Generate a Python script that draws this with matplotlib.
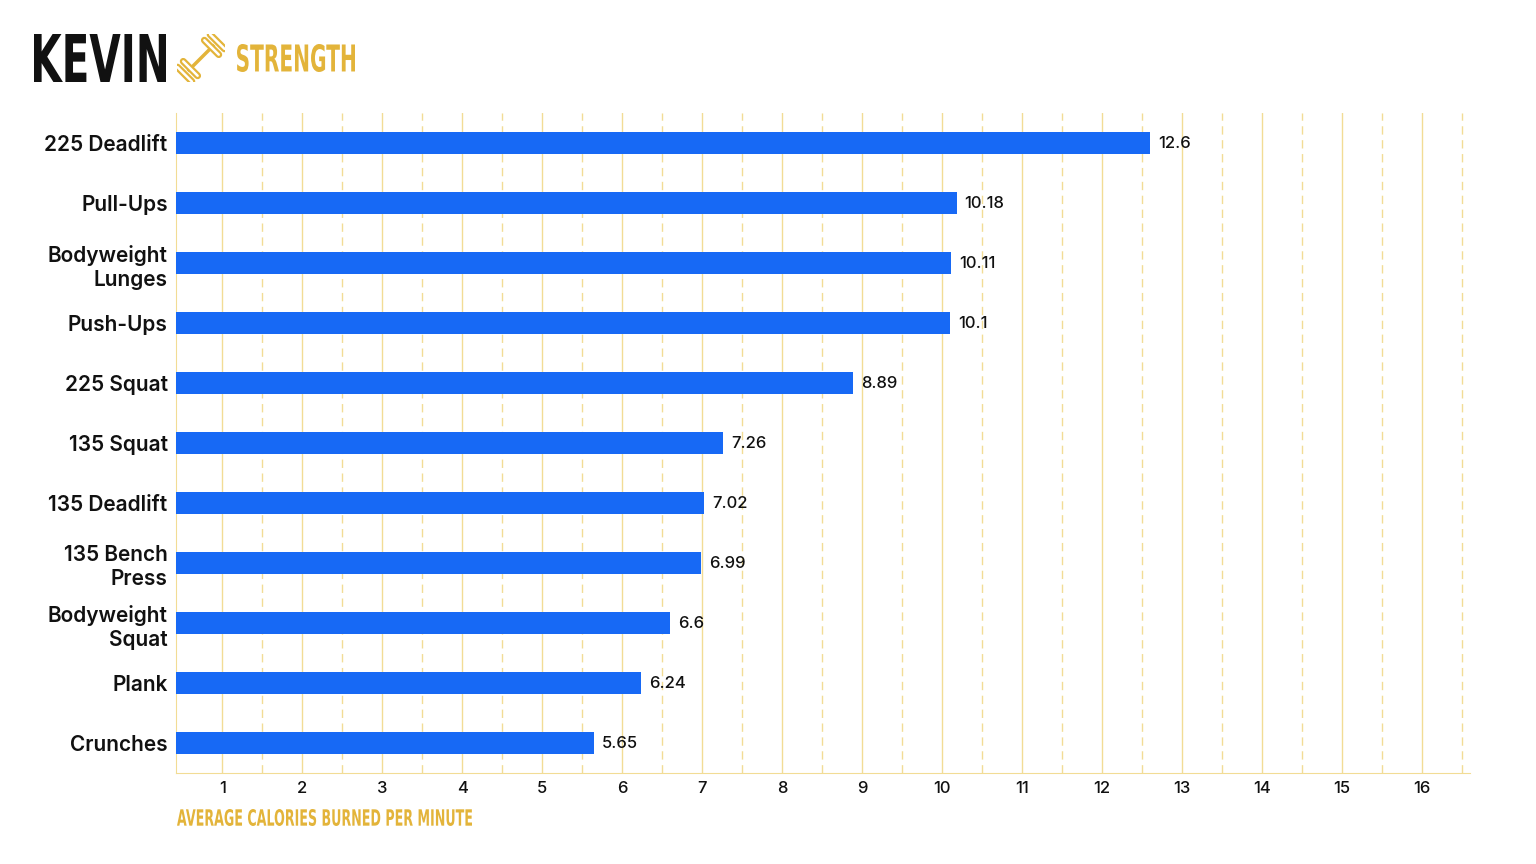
import matplotlib
matplotlib.use("Agg")
import matplotlib.pyplot as plt
from matplotlib import font_manager as fm
from matplotlib.textpath import TextPath
from matplotlib.font_manager import FontProperties
from matplotlib.patches import PathPatch
from matplotlib.transforms import Affine2D, IdentityTransform

categories = ["225 Deadlift", "Pull-Ups", "Bodyweight\nLunges", "Push-Ups", "225 Squat",
              "135 Squat", "135 Deadlift", "135 Bench\nPress", "Bodyweight\nSquat", "Plank", "Crunches"]
values = [12.6, 10.18, 10.11, 10.1, 8.89, 7.26, 7.02, 6.99, 6.6, 6.24, 5.65]
labels = ["12.6", "10.18", "10.11", "10.1", "8.89", "7.26", "7.02", "6.99", "6.6", "6.24", "5.65"]
xticks = list(range(1, 17))

names = {f.name for f in fm.fontManager.ttflist}
body = "Inter" if "Inter" in names else "DejaVu Sans"

gold = "#E3B43A"
grid = "#F2DC95"
blue = "#1769F5"
H = 864

fig = plt.figure(figsize=(15.36, 8.64), dpi=100)
ax = fig.add_axes([176/1536, 1-773/864, (1470-176)/1536, (773-113)/864])
y = list(range(len(values)))
ax.barh(y, values, height=0.37, color=blue, zorder=3)
ax.set_ylim(len(values)-0.5, -0.5)
ax.set_xlim(0.42, 16.6)
for v in xticks:
    ax.axvline(v, color=grid, lw=1, zorder=1)
    ax.axvline(v+0.5, color=grid, lw=1, ls=(0, (6, 4)), zorder=1)
for yi, v, l in zip(y, values, labels):
    ax.text(v+0.1, yi, l, va="center", ha="left", fontsize=12, family=body, weight=500, color="#111")
ax.set_yticks(y)
ax.set_yticklabels(categories, fontsize=15, family=body, weight=600, color="#111", linespacing=1.25)
ax.set_xticks(xticks)
ax.set_xticklabels([str(t) for t in xticks], fontsize=12, family=body, weight=500, color="#111")
ax.tick_params(length=0, pad=6)
for s in ["top", "right"]:
    ax.spines[s].set_visible(False)
ax.spines["bottom"].set_color(grid)
ax.spines["left"].set_color(grid)

def fit_text(s, x0, x1, ytop, ybot, color):
    tp = TextPath((0, 0), s, size=100, prop=FontProperties(family="DejaVu Sans", weight="bold"))
    ext = tp.get_extents()
    sx = (x1 - x0) / ext.width
    sy = (ybot - ytop) / ext.height
    tr = Affine2D().translate(-ext.x0, -ext.y0).scale(sx, sy).translate(x0, H - ybot)
    fig.patches.append(PathPatch(tr.transform_path(tp), color=color, lw=0,
                                 transform=IdentityTransform(), figure=fig))

fit_text("KEVIN", 34, 166, 34, 82, "#111")
fit_text("STRENGTH", 237, 355, 44, 72, gold)
fit_text("AVERAGE CALORIES BURNED PER MINUTE", 177, 472, 809, 826, gold)

# simple dumbbell icon
ia = fig.add_axes([177/1536, 1-82/864, 48/1536, 48/864])
ia.set_xlim(0, 10); ia.set_ylim(0, 10); ia.axis("off")
ia.plot([2.5, 7.5], [2.5, 7.5], color=gold, lw=2.5)
for cx, cy in [(1.6, 1.6), (2.8, 2.8), (7.2, 7.2), (8.4, 8.4)]:
    ia.plot([cx-1.5, cx+1.5], [cy+1.5, cy-1.5], color=gold, lw=5, solid_capstyle="round")
    ia.plot([cx-1.5, cx+1.5], [cy+1.5, cy-1.5], color="white", lw=1.8, solid_capstyle="round")
fig.savefig("out.png", dpi=100, facecolor="white")
